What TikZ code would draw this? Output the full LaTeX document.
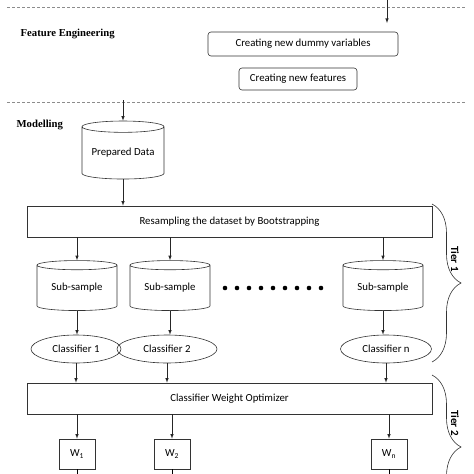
\documentclass[tikz,border=0pt]{standalone}
\usepackage{fontspec}
\setmainfont{Carlito}
\newfontfamily\headfont{Liberation Serif}
\usetikzlibrary{shapes,arrows,positioning,decorations.pathreplacing}

\tikzset{
  stage/.style={draw=black!80,rounded corners=3pt,minimum height=#1,inner sep=2pt},
  wide/.style={draw=black!80,minimum width=405pt,minimum height=31pt},
  store/.style={draw=black!80,cylinder,shape border rotate=90,aspect=0.18,minimum width=#1,inner sep=0pt},
  model/.style={draw=black!80,ellipse,minimum height=28pt,minimum width=#1,inner sep=0pt},
  weight/.style={draw=black!80,minimum width=36pt,minimum height=30pt,inner sep=0pt},
  flow/.style={->,>=latex,black!85},
  sep/.style={draw=black!45,dash pattern=on 3pt off 2pt,line width=0.8pt},
  tier/.style={draw=black!80,decorate,decoration={brace,amplitude=29pt}},
  tiertext/.style={rotate=-90,font=\bfseries\fontsize{11}{13}\selectfont},
  heading/.style={anchor=west,font=\headfont\bfseries\fontsize{10.7}{12}\selectfont}
}

\begin{document}
\begin{tikzpicture}[x=1pt,y=-1pt,line width=0.6pt,font=\fontsize{10.8}{13}\selectfont]
  \useasboundingbox (0,0) rectangle (474,474);
  \clip (0,0) rectangle (474,474);

  % section separators
  \draw[sep] (7,7) -- (465,7);
  \draw[sep] (7,102) -- (465,102);

  \node[heading] (fehead)  at (17,34)  {Feature Engineering};
  \node[heading] (modhead) at (13,125) {Modelling};

  % feature engineering
  \node[stage=24pt,minimum width=190pt] (Dummy)    at (303,44) {Creating new dummy variables};
  \node[stage=22pt,minimum width=118pt] (Features) at (298,79) {Creating new features};

  % modelling
  \node[store=82pt,minimum height=58pt] (Prepared) at (123,153) {Prepared Data};
  \node[wide] (Resample) at (229.5,221.5) {Resampling the dataset by Bootstrapping};

  \node[store=80pt,minimum height=50pt] (SubA) at (77,288)  {Sub-sample};
  \node[store=80pt,minimum height=50pt] (SubB) at (170,288) {Sub-sample};
  \node[store=80pt,minimum height=50pt] (SubN) at (383,288) {Sub-sample};

  \foreach \k in {0,...,8}
    \fill (225+\k*12,288) circle (2.3pt);

  \node[model=90pt]  (ClassA) at (76,349)  {Classifier 1};
  \node[model=100pt] (ClassB) at (167,349) {Classifier 2};
  \node[model=91pt]  (ClassN) at (386,349) {Classifier n};

  \node[wide] (Optimizer) at (229.5,398.5) {Classifier Weight Optimizer};

  \node[weight] (WA) at (77,454)  {W\textsubscript{1}};
  \node[weight] (WB) at (172,454) {W\textsubscript{2}};
  \node[weight] (WN) at (389,454) {W\textsubscript{n}};

  \coordinate (inTop)  at (387,-5);
  \coordinate (inTopE) at (387,23);
  \coordinate (inMod)  at (123,100);
  \coordinate (outA) at (77,480);
  \coordinate (outB) at (172,480);
  \coordinate (outN) at (389,480);

  \draw[flow] (inTop) -- (inTopE);
  \draw[flow] (inMod) -- (Prepared.top);
  \draw[flow] (Prepared.bottom) -- (Resample.north -| Prepared.bottom);

  \foreach \s/\c/\w in {SubA/ClassA/WA,SubB/ClassB/WB,SubN/ClassN/WN}{
    \draw[flow] (Resample.south -| \s.top) -- (\s.top);
    \draw[flow] (\s.bottom) -- (\c.north -| \s.bottom);
    \draw[flow] (\c.south) -- (Optimizer.north -| \c.south);
    \draw[flow] (Optimizer.south -| \w.north) -- (\w.north);
  }
  \draw (WA.south) -- (outA);
  \draw (WB.south) -- (outB);
  \draw (WN.south) -- (outN);

  % tiers
  \draw[tier] (432,204) -- (432,362);
  \draw[tier] (432,375) -- (432,519);
  \node[tiertext] (TierA) at (455,259) {Tier 1};
  \node[tiertext] (TierB) at (455,423) {Tier 2};
\end{tikzpicture}
\end{document}
